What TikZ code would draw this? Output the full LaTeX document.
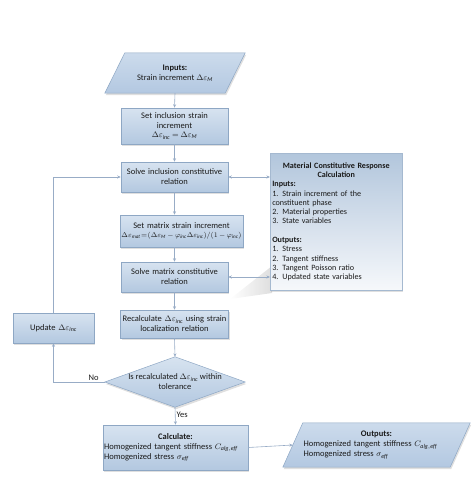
\documentclass[tikz,border=0pt]{standalone}
\usepackage{fontspec}
\setmainfont{Carlito}
\usetikzlibrary{shadows,arrows.meta,backgrounds,calc}
\definecolor{boxtop}{HTML}{D7E3F0}
\definecolor{boxbot}{HTML}{B3C8E0}
\definecolor{boxline}{HTML}{8EA7C4}
\definecolor{linecol}{HTML}{98ACC6}
\definecolor{paratop}{HTML}{CCDBEC}
\definecolor{parabot}{HTML}{B3C8E1}
\definecolor{mattop}{HTML}{B2C6DC}
\definecolor{matbot}{HTML}{F6F8FB}
\definecolor{txt}{HTML}{1A1A1A}
\begin{document}
\begin{tikzpicture}[x=1pt,y=-1pt,
  every node/.style={text=txt},
  basefont/.style={font=\fontsize{8.5}{10}\selectfont},
  proc/.style={basefont, rectangle, draw=boxline, line width=0.5pt, top color=boxtop, bottom color=boxbot, align=center, inner sep=1pt,
    drop shadow={shadow xshift=1pt, shadow yshift=-2pt, opacity=0.25, fill=gray}},
  plain/.style={basefont, rectangle, align=center, inner sep=1pt},
  shapefill/.style={draw=boxline, line width=0.5pt, top color=paratop, bottom color=parabot,
    drop shadow={shadow xshift=1pt, shadow yshift=-2pt, opacity=0.25, fill=gray}},
  arr/.style={draw=linecol, line width=0.6pt, -{Stealth[length=3.5pt,width=3pt]}},
  biarr/.style={draw=linecol, line width=0.6pt, {Stealth[length=3.5pt,width=3pt]}-{Stealth[length=3.5pt,width=3pt]}},
  lbl/.style={basefont, inner sep=1pt}
]
\thickmuskip=4mu \medmuskip=3mu
\useasboundingbox (0,0) rectangle (474,479);

% inputs parallelogram (text node)
\node[plain, minimum width=120, minimum height=40] (in) at (175,73)
  {\textbf{Inputs:}\\ Strain increment $\Delta\varepsilon_{\mathit{M}}$};

\node[proc, minimum width=107, minimum height=36, text width=105] (b1) at (174.5,126)
  {Set inclusion strain\\ increment\\[-1pt] \mbox{$\Delta\varepsilon_{\mathit{inc}}=\Delta\varepsilon_{\mathit{M}}$}};

\node[proc, minimum width=107, minimum height=30, text width=105] (b2) at (174.5,177)
  {Solve inclusion constitutive\\ relation};

\node[proc, minimum width=123, minimum height=32, text width=121] (b3) at (181.5,231)
  {Set matrix strain increment\\[-1pt] \mbox{\fontsize{7.3}{8.5}\selectfont$\Delta\varepsilon_{\mathit{mat}}\!=\!(\Delta\varepsilon_{\mathit{M}}-\varphi_{\mathit{inc}}\Delta\varepsilon_{\mathit{inc}})/(1-\varphi_{\mathit{inc}})$}};

\node[proc, minimum width=107, minimum height=30, text width=105] (b4) at (174.5,277)
  {Solve matrix constitutive\\ relation};

\node[proc, minimum width=107, minimum height=28, text width=106] (b5) at (174.5,324)
  {Recalculate $\Delta\varepsilon_{\mathit{inc}}$ using strain\\ localization relation};

\node[plain, minimum width=140, minimum height=50] (dec) at (175,382)
  {Is recalculated $\Delta\varepsilon_{\mathit{inc}}$ within\\ tolerance};

\node[proc, minimum width=145, minimum height=45, text width=143, align=left, inner sep=1pt] (calc) at (175.5,447.5)
  {\makebox[\linewidth]{\textbf{Calculate:}}\\
   Homogenized tangent stiffness $C_{\mathit{alg,eff}}$\\
   Homogenized stress $\sigma_{\mathit{eff}}$};

\node[plain, minimum width=167, minimum height=44, text width=146, align=left] (out) at (376.5,445)
  {\makebox[\linewidth]{\textbf{Outputs:}}\\
   Homogenized tangent stiffness $C_{\mathit{alg,eff}}$\\
   Homogenized stress $\sigma_{\mathit{eff}}$};

\node[proc, minimum width=81, minimum height=30, text width=79] (upd) at (53.5,328)
  {Update $\Delta\varepsilon_{\mathit{inc}}$};

% perspective shadow of the material box
\shade[left color=white, right color=black!13] (272,266) -- (272,293) -- (230,299) -- cycle;

\node[proc, draw=boxline!80, top color=mattop, bottom color=matbot, align=left,
      minimum width=132, minimum height=137, text width=128, anchor=north west,
      drop shadow={shadow xshift=0pt, shadow yshift=0pt, opacity=0},
      font=\fontsize{8.1}{9.3}\selectfont] (mat) at (270,153)
  {\makebox[\linewidth]{\textbf{Material Constitutive Response}}\\
   \makebox[\linewidth]{\textbf{Calculation}}\\
   \textbf{Inputs:}\\
   1. Strain increment of the\\
   constituent phase\\
   2. Material properties\\
   3. State variables\\[9.3pt]
   \textbf{Outputs:}\\
   1. Stress\\
   2. Tangent stiffness\\
   3. Tangent Poisson ratio\\
   4. Updated state variables};

% background shapes
\begin{scope}[on background layer]
  \path[shapefill] ([xshift=10pt]in.north west) -- ([xshift=10pt]in.north east)
     -- ([xshift=-10pt]in.south east) -- ([xshift=-10pt]in.south west) -- cycle;
  \path[shapefill] ([xshift=10pt]out.north west) -- ([xshift=10pt]out.north east)
     -- ([xshift=-10pt]out.south east) -- ([xshift=-10pt]out.south west) -- cycle;
  \path[shapefill, top color=boxtop, bottom color=boxbot] (dec.north) -- (dec.east) -- (dec.south) -- (dec.west) -- cycle;
\end{scope}

% connectors
\draw[arr] (in.south) -- (b1.north);
\draw[arr] (b1.south) -- (b2.north);
\draw[arr] (b2.south) -- (b2.south |- b3.north);
\draw[arr] (b2.south |- b3.south) -- (b4.north);
\draw[arr] (b4.south) -- (b5.north);
\draw[arr] (b5.south) -- (dec.north);
\draw[arr] (dec.south) -- node[lbl, right, pos=0.42] {Yes} (calc.north);
\draw[arr] (calc.east) -- (out.west);
\coordinate (cno) at (upd.south |- dec.west);
\draw[arr] (dec.west) -- node[lbl, above, pos=0.22] {No} (cno) -- (upd.south);
\draw[arr] (upd.north) |- (b2.west);
\draw[biarr] (b2.east) -- (mat.west |- b2.east);
\draw[biarr] (b4.east) -- (mat.west |- b4.east);
\end{tikzpicture}
\end{document}
